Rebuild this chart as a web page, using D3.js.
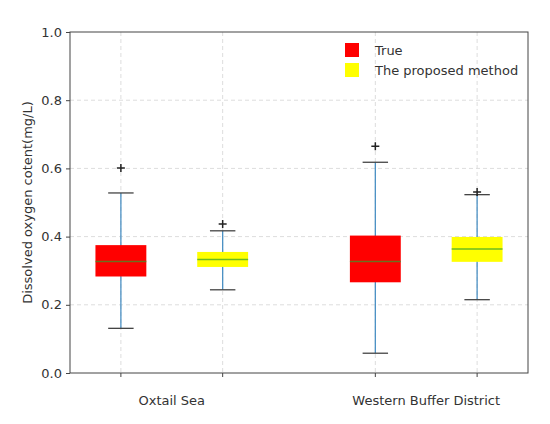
<!DOCTYPE html>
<html lang="en">
<head>
<meta charset="utf-8">
<script src="https://d3js.org/d3.v7.min.js"></script>
<style>
    body { margin: 0; background: #fff; }
    text { font-family: "DejaVu Sans", sans-serif; fill: #333; }
</style>
</head>
<body>
<svg width="550" height="424"></svg>
<script>
// groups on the x axis, and the two series in each group
const groups = ['Oxtail Sea', 'Western Buffer District'];
const series = ['True', 'The proposed method'];
const seriesColors = ['#ff0000', '#ffff00'];

// box stats per group, [True, proposed]
const whiskerLow = [[0.131, 0.244], [0.058, 0.215]];
const q1 = [[0.283, 0.311], [0.266, 0.326]];
const median = [[0.327, 0.333], [0.327, 0.364]];
const q3 = [[0.375, 0.355], [0.403, 0.399]];
const whiskerHigh = [[0.528, 0.417], [0.618, 0.523]];
const fliers = [[[0.601], [0.437]], [[0.665], [0.531]]];

const yTicks = [0.0, 0.2, 0.4, 0.6, 0.8, 1.0];

const margin = {top: 32, right: 22, bottom: 51, left: 70};
const width = 550 - margin.left - margin.right;
const height = 424 - margin.top - margin.bottom;

const svg = d3.select('svg')
    .append('g')
    .attr('transform', `translate(${margin.left}, ${margin.top})`);

// each box sits 0.2 left/right of its group centre
const boxes = [];
groups.forEach((g, gi) => series.forEach((s, si) => boxes.push({gi, si})));

const x = d3.scaleLinear().domain([0.6, 2.4]).range([0, width]);
const offset = [-0.2, 0.2];
const pos = b => x(b.gi + 1 + offset[b.si]);
const y = d3.scaleLinear().domain([0, 1]).range([height, 0]);

const boxW = x(0.2) - x(0);
const capW = boxW / 2;

// grid
svg.append('g')
    .selectAll('line')
    .data(yTicks.slice(1, -1))
    .join('line')
    .attr('x1', 0).attr('x2', width)
    .attr('y1', d => y(d)).attr('y2', d => y(d))
    .attr('stroke', '#ddd').attr('stroke-dasharray', '4,3');
svg.append('g')
    .selectAll('line')
    .data(boxes)
    .join('line')
    .attr('x1', pos).attr('x2', pos)
    .attr('y1', 0).attr('y2', height)
    .attr('stroke', '#ddd').attr('stroke-dasharray', '4,3');

// whiskers
const bx = svg.append('g').selectAll('g').data(boxes).join('g');
bx.append('line')
    .attr('x1', pos).attr('x2', pos)
    .attr('y1', b => y(whiskerLow[b.gi][b.si]))
    .attr('y2', b => y(whiskerHigh[b.gi][b.si]))
    .attr('stroke', '#4a90c4').attr('stroke-width', 1.3);
[whiskerLow, whiskerHigh].forEach(arr => {
    bx.append('line')
        .attr('x1', b => pos(b) - capW / 2).attr('x2', b => pos(b) + capW / 2)
        .attr('y1', b => y(arr[b.gi][b.si])).attr('y2', b => y(arr[b.gi][b.si]))
        .attr('stroke', '#444').attr('stroke-width', 1.3);
});

// boxes
bx.append('rect')
    .attr('x', b => pos(b) - boxW / 2)
    .attr('width', boxW)
    .attr('y', b => y(q3[b.gi][b.si]))
    .attr('height', b => y(q1[b.gi][b.si]) - y(q3[b.gi][b.si]))
    .attr('fill', b => seriesColors[b.si]);

// medians
bx.append('line')
    .attr('x1', b => pos(b) - boxW / 2).attr('x2', b => pos(b) + boxW / 2)
    .attr('y1', b => y(median[b.gi][b.si])).attr('y2', b => y(median[b.gi][b.si]))
    .attr('stroke', '#2ca02c').attr('stroke-opacity', 0.7).attr('stroke-width', 1.5);

// fliers as '+'
bx.each(function(b) {
    d3.select(this).selectAll('path.flier')
        .data(fliers[b.gi][b.si])
        .join('path')
        .attr('class', 'flier')
        .attr('d', v => `M${pos(b) - 4},${y(v)}h8M${pos(b)},${y(v) - 4}v8`)
        .attr('stroke', '#222').attr('stroke-width', 1.5);
});

// frame
svg.append('rect')
    .attr('width', width).attr('height', height)
    .attr('fill', 'none').attr('stroke', '#444');

// y axis
const yAxis = svg.append('g')
    .call(d3.axisLeft(y).tickValues(yTicks).tickFormat(d3.format('.1f')).tickSizeOuter(0).tickSize(4).tickPadding(4));
yAxis.select('.domain').remove();
yAxis.selectAll('line').attr('stroke', '#444');
yAxis.selectAll('text').style('font-size', '13px').attr('fill', '#333').style('font-family', '"DejaVu Sans", sans-serif');

// x ticks (no labels) and group labels
svg.append('g')
    .selectAll('line')
    .data(boxes)
    .join('line')
    .attr('x1', pos).attr('x2', pos)
    .attr('y1', height).attr('y2', height + 4)
    .attr('stroke', '#444');
svg.append('g')
    .selectAll('text')
    .data(groups)
    .join('text')
    .attr('x', (g, gi) => x(gi + 1))
    .attr('y', height + 32)
    .attr('text-anchor', 'middle')
    .style('font-size', '13px')
    .text(d => d);

svg.append('text')
    .attr('transform', `translate(${-38}, ${height / 2}) rotate(-90)`)
    .attr('text-anchor', 'middle')
    .style('font-size', '13px')
    .text('Dissolved oxygen cotent(mg/L)');

// legend
const legend = svg.append('g')
    .attr('transform', `translate(${275}, ${11})`)
    .selectAll('g')
    .data(series)
    .join('g')
    .attr('transform', (d, i) => `translate(0, ${i * 20})`);
legend.append('rect')
    .attr('width', 14).attr('height', 14)
    .attr('fill', (d, i) => seriesColors[i]);
legend.append('text')
    .attr('x', 30).attr('y', 7).attr('dy', '0.35em')
    .style('font-size', '13px')
    .text(d => d);
</script>
</body>
</html>
